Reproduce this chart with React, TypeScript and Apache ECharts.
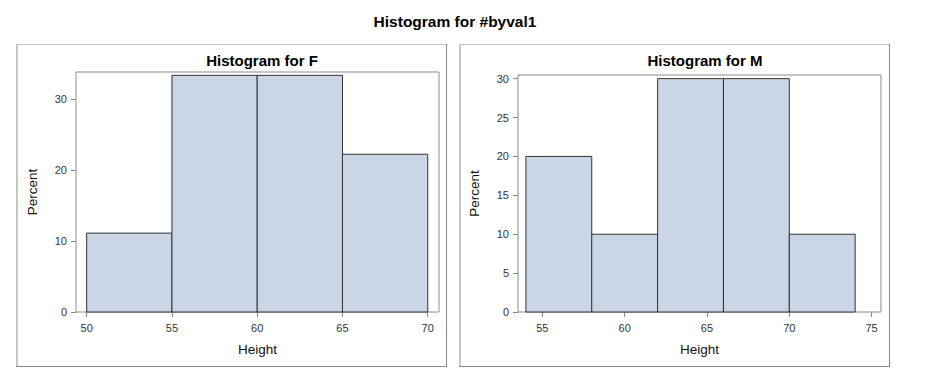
import React, { useEffect, useRef } from "react";
import * as echarts from "echarts";

const mainTitle = "Histogram for #byval1";
const panelTitles = ["Histogram for F", "Histogram for M"];
const xAxisTitle = "Height";
const yAxisTitle = "Percent";

const edgesF = [50, 55, 60, 65, 70];
const percentF = [11.11, 33.33, 33.33, 22.22];
const xTicksF = [50, 55, 60, 65, 70];
const yTicksF = [0, 10, 20, 30];

const edgesM = [54, 58, 62, 66, 70, 74];
const percentM = [20, 10, 30, 30, 10];
const xTicksM = [55, 60, 65, 70, 75];
const yTicksM = [0, 5, 10, 15, 20, 25, 30];

const FONT = "'Liberation Sans', Arial, sans-serif";

function binData(edges: number[], vals: number[]) {
  return vals.map((v, i) => [edges[i], edges[i + 1], v]);
}

const renderBar = (params: any, api: any) => {
  const x0 = api.value(0);
  const x1 = api.value(1);
  const v = api.value(2);
  const p0 = api.coord([x0, v]);
  const p1 = api.coord([x1, 0]);
  return {
    type: "rect",
    shape: { x: p0[0], y: p0[1], width: p1[0] - p0[0], height: p1[1] - p0[1] },
    style: { fill: "#cad5e5", stroke: "#333333", lineWidth: 1 },
  };
};

function xAxisCfg(gridIndex: number, min: number, max: number, ticks: number[], gap: number) {
  return {
    type: "value",
    gridIndex,
    min,
    max,
    name: xAxisTitle,
    nameLocation: "middle",
    nameGap: gap,
    nameTextStyle: { fontFamily: FONT, fontSize: 13.5, color: "#111" },
    axisLine: { show: false },
    axisTick: { show: true, customValues: ticks, length: 5, lineStyle: { color: "#888" } },
    axisLabel: { customValues: ticks, margin: 10, fontFamily: FONT, fontSize: 11, color: "#333" },
    splitLine: { show: false },
  };
}

function yAxisCfg(gridIndex: number, max: number, ticks: number[], gap: number) {
  return {
    type: "value",
    gridIndex,
    min: 0,
    max,
    name: yAxisTitle,
    nameLocation: "middle",
    nameGap: gap,
    nameTextStyle: { fontFamily: FONT, fontSize: 13.5, color: "#111" },
    axisLine: { show: false },
    axisTick: { show: true, customValues: ticks, length: 5, lineStyle: { color: "#888" } },
    axisLabel: { customValues: ticks, margin: 9, fontFamily: FONT, fontSize: 11, color: "#333" },
    splitLine: { show: false },
  };
}

function panelBorder(x0: number, y0: number, x1: number, y1: number) {
  const light = "#c6c6c6";
  const dark = "#8a8a8a";
  return [
    { type: "line", shape: { x1: x0, y1: y0 + 0.5, x2: x1, y2: y0 + 0.5 }, style: { stroke: light, lineWidth: 1 } },
    { type: "line", shape: { x1: x0 + 1, y1: y0, x2: x0 + 1, y2: y1 }, style: { stroke: light, lineWidth: 2 } },
    { type: "line", shape: { x1: x1 + 0.5, y1: y0, x2: x1 + 0.5, y2: y1 }, style: { stroke: dark, lineWidth: 1 } },
    { type: "line", shape: { x1: x0, y1: y1 + 0.5, x2: x1 + 1, y2: y1 + 0.5 }, style: { stroke: dark, lineWidth: 1 } },
  ];
}

export default function App() {
  const ref = useRef<HTMLDivElement>(null);
  useEffect(() => {
    if (!ref.current) return;
    const chart = echarts.init(ref.current, undefined, { renderer: "svg" });
    chart.setOption({
      animation: false,
      backgroundColor: "#ffffff",
      title: [
        {
          text: mainTitle,
          left: 450,
          top: 8,
          textAlign: "center",
          textStyle: { fontFamily: FONT, fontWeight: "bold", fontSize: 15.5, color: "#000" },
        },
        {
          text: panelTitles[0],
          left: 257,
          top: 48,
          textAlign: "center",
          textStyle: { fontFamily: FONT, fontWeight: "bold", fontSize: 15, color: "#000" },
        },
        {
          text: panelTitles[1],
          left: 700,
          top: 48,
          textAlign: "center",
          textStyle: { fontFamily: FONT, fontWeight: "bold", fontSize: 15, color: "#000" },
        },
      ],
      graphic: [...panelBorder(16, 44, 446, 366), ...panelBorder(459, 44, 889, 366)],
      grid: [
        { left: 76, top: 72, width: 363, height: 240, show: true, borderColor: "#8c8c8c", borderWidth: 1, backgroundColor: "transparent" },
        { left: 518, top: 75, width: 363, height: 237, show: true, borderColor: "#8c8c8c", borderWidth: 1, backgroundColor: "transparent" },
      ],
      xAxis: [xAxisCfg(0, 49.375, 70.66, xTicksF, 30), xAxisCfg(1, 53.52, 75.57, xTicksM, 30)],
      yAxis: [yAxisCfg(0, 33.8, yTicksF, 37), yAxisCfg(1, 30.47, yTicksM, 37)],
      series: [
        { type: "custom", xAxisIndex: 0, yAxisIndex: 0, renderItem: renderBar, encode: { x: [0, 1], y: 2 }, data: binData(edgesF, percentF) },
        { type: "custom", xAxisIndex: 1, yAxisIndex: 1, renderItem: renderBar, encode: { x: [0, 1], y: 2 }, data: binData(edgesM, percentM) },
      ],
    });
    return () => chart.dispose();
  }, []);
  return (
    <div
      ref={ref}
      style={{ position: "fixed", left: 0, top: 0, width: 925, height: 378 }}
    />
  );
}
